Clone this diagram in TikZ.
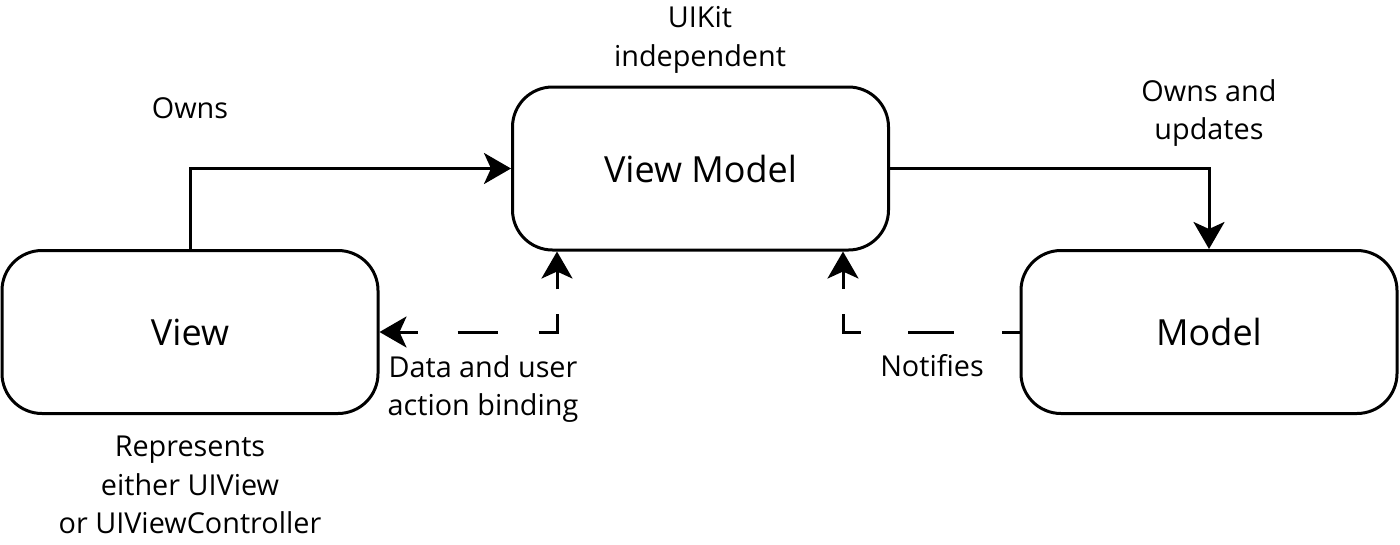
\documentclass[tikz,border=0pt]{standalone}
\usepackage{fontspec}
\setmainfont{Open Sans}
\usetikzlibrary{arrows.meta}
\begin{document}
\begin{tikzpicture}[x=1pt,y=-1pt,
  box/.style={draw=black,line width=3pt,rounded corners=40pt,minimum width=376pt,minimum height=163pt,inner sep=0pt,font=\fontsize{36}{40}\selectfont},
  lbl/.style={align=center,font=\fontsize{28.8}{38.5}\selectfont,inner sep=0pt},
  tip/.tip={Stealth[length=27pt,width=31pt,inset=7pt]},
  arr/.style={line width=3pt,-tip},
  dasharr/.style={line width=3pt,dash pattern=on 19pt off 40pt on 40pt off 41pt on 36pt off 25pt on 200pt,tip-tip},
  dasharrb/.style={line width=3pt,dash pattern=on 18pt off 48pt on 46pt off 47pt on 36pt off 25pt on 200pt,-tip}
]
\useasboundingbox (0,0) rectangle (1400,544);
\node[box] (view) at (190,332) {View};
\node[box] (vm) at (700.5,168.5) {View Model};
\node[box] (model) at (1209,332) {Model};

\draw[arr] (view.north) |- (vm.west);
\draw[arr] (vm.east) -| (model.north);
\draw[dasharr] (view.east) -| ([xshift=-143.5pt]vm.south);
\draw[dasharrb] (model.west) -| ([xshift=142.5pt]vm.south);

\node[lbl] (l1) at (700,40) {UIKit\\independent};
\node[lbl] (l2) at (190,108) {Owns};
\node[lbl] (l3) at (1209,113) {Owns and\\updates};
\node[lbl] (l4) at (483,389) {Data and user\\action binding};
\node[lbl] (l5) at (932,366) {Notifies};
\node[lbl] (l6) at (190,485) {Represents\\either UIView\\or UIViewController};
\end{tikzpicture}
\end{document}
